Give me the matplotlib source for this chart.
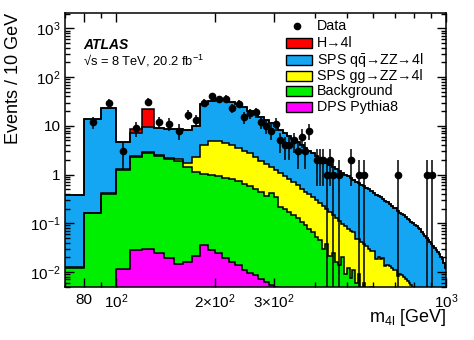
import numpy as np
import matplotlib
matplotlib.use("Agg")
import matplotlib.pyplot as plt
from matplotlib.patches import Rectangle
from matplotlib.ticker import FixedLocator, NullFormatter

plt.rcParams['font.family'] = ['Liberation Sans', 'DejaVu Sans']
plt.rcParams['mathtext.fontset'] = 'custom'
plt.rcParams['mathtext.rm'] = 'Liberation Sans'
plt.rcParams['mathtext.it'] = 'Liberation Sans:italic'
plt.rcParams['mathtext.bf'] = 'Liberation Sans:bold'

# 10 GeV bins, 70 -> 1000 GeV
edges = np.arange(70, 1001, 10)

# per-bin yields (rows of 10 bins, first bin edge in comment)
dps = [0, 0, 0, 0.0115, 0.028, 0.029, 0.024, 0.019, 0.0145, 0.016,          # 70
       0.021, 0.035, 0.028, 0.024, 0.019, 0.016, 0.014, 0.011, 0.0095, 0.0085,  # 170
       0.0072, 0.0063, 0.0055, 0.0048, 0.004, 0.0035] + [0.0] * 67            # 270

bkg = [0.012, 0.16, 0.40, 1.23, 2.23, 2.77, 2.38, 2.08, 1.84, 1.38,          # 70
       1.08, 0.985, 0.95, 0.906, 0.84, 0.774, 0.706, 0.639, 0.56, 0.49,     # 170
       0.423, 0.364, 0.405, 0.335, 0.216, 0.196, 0.17, 0.15, 0.125, 0.105,  # 270
       0.09, 0.076, 0.065, 0.052, 0.046, 0.03, 0.038, 0.021, 0.025, 0.016,  # 370
       0.014, 0.02, 0.009, 0.012, 0.0075, 0.011, 0.006, 0.009, 0.0045, 0.006,  # 470
       0.004, 0.0035, 0.005, 0.003, 0.0028, 0.0026, 0.0024, 0.0022, 0.002, 0.0019,  # 570
       0.0017, 0.0016, 0.0015, 0.0014, 0.0013, 0.0012, 0.0012, 0.0011, 0.001, 0.001,  # 670
       0.0009, 0.0009, 0.0008, 0.0008, 0.0008, 0.0007, 0.0007, 0.0007, 0.0006, 0.0006,  # 770
       0.0006, 0.0005, 0.0005, 0.0005, 0.0005, 0.0004, 0.0004, 0.0004, 0.0004, 0.0003,  # 870
       0.0003, 0.0003, 0.0003]                                               # 970

sps_gg = [0.0005, 0.005, 0.01, 0.06, 0.14, 0.15, 0.15, 0.1, 0.2, 0.35,      # 70
          1.2, 2.98, 3.92, 3.87, 3.54, 3.21, 2.78, 2.45, 2.13, 1.8,         # 170
          1.47, 1.28, 1.04, 0.91, 0.83, 0.72, 0.63, 0.55, 0.475, 0.395,     # 270
          0.35, 0.314, 0.275, 0.248, 0.214, 0.195, 0.157, 0.149, 0.12, 0.109,  # 370
          0.096, 0.077, 0.079, 0.065, 0.0605, 0.056, 0.042, 0.038, 0.0375, 0.032,  # 470
          0.030, 0.0265, 0.022, 0.024, 0.016, 0.0174, 0.0156, 0.0168, 0.011, 0.012,  # 570
          0.0113, 0.0104, 0.0095, 0.0098, 0.0068, 0.0078, 0.0073, 0.0067, 0.0062, 0.0056,  # 670
          0.0051, 0.0046, 0.0042, 0.0038, 0.0035, 0.0031, 0.0028, 0.0025, 0.0022, 0.002,  # 770
          0.0018, 0.0016, 0.0014, 0.0013, 0.0012, 0.0011, 0.001, 0.0009, 0.0008, 0.0007,  # 870
          0.0006, 0.0006, 0.0005]                                              # 970

sps_qq = [0.37, 13.44, 22.59, 3.3, 4.6, 6.35, 6.45, 6.6, 6.45, 6.55,        # 70
          7.7, 24.0, 28.1, 31.2, 29.6, 27.0, 24.5, 20.9, 17.8, 15.7,        # 170
          13.6, 11.35, 10.05, 8.55, 7.15, 6.08, 5.4, 4.7, 4.0, 3.5,         # 270
          3.06, 2.71, 2.36, 2.1, 1.84, 1.675, 1.505, 1.38, 1.305, 1.175,    # 370
          1.09, 0.983, 0.912, 0.843, 0.782, 0.72, 0.667, 0.613, 0.578, 0.532,  # 470
          0.486, 0.47, 0.423, 0.396, 0.358, 0.34, 0.322, 0.293, 0.2745, 0.256,  # 570
          0.237, 0.218, 0.199, 0.19, 0.17, 0.156, 0.146, 0.137, 0.128, 0.118,  # 670
          0.109, 0.1025, 0.095, 0.087, 0.082, 0.076, 0.071, 0.063, 0.058, 0.052,  # 770
          0.048, 0.044, 0.040, 0.036, 0.0325, 0.0296, 0.0267, 0.0248, 0.0219, 0.019,  # 870
          0.0171, 0.0142, 0.0113]                                            # 970

h4l = [0, 0, 0, 0, 1.6, 12.7] + [0.0] * 87

data = [0, 12, 30, 3, 9, 31, 12, 11, 8, 17,      # 70
        13, 30, 41, 35, 36, 23, 28, 15, 18, 19,  # 170
        12, 10, 8, 11, 5, 4, 4, 5, 3, 6,         # 270
        3, 8, 0, 2, 2, 2, 1, 2, 1, 0,            # 370
        1, 0, 0, 0, 2, 0, 0, 1, 0, 1,            # 470
        0, 0, 0, 0, 0, 0, 0, 0, 0, 0,            # 570
        0, 0, 0, 0, 1, 0, 0, 0, 0, 0,            # 670
        0, 0, 0, 0, 0, 0, 0, 0, 0, 0,            # 770
        1, 0, 0, 1, 0, 0, 0, 0, 0, 0,            # 870
        0, 0, 0]                                 # 970

# stack, bottom to top
names = ["DPS Pythia8", "Background", r"SPS gg→ZZ→4l", r"SPS q$\bar{\mathrm{q}}$→ZZ→4l", "H→4l"]
comps = [dps, bkg, sps_gg, sps_qq, h4l]
colors = ["#ff00ff", "#00ee00", "#ffff00", "#14a6f2", "#ff0000"]

levels = np.cumsum(np.array(comps), axis=0)

fig = plt.figure(figsize=(4.74, 3.40), dpi=100)
ax = fig.add_axes([65/474, 1 - 287/340, 381/474, 274/340])

base = 1e-6
for lvl, col in reversed(list(zip(levels, colors))):
    ax.stairs(lvl, edges, baseline=base, fill=True, color=col, lw=0)
for lvl in levels:
    ax.stairs(lvl, edges, baseline=None, color="black", lw=1.1)

# data with sqrt(N) errors
d = np.array(data, dtype=float)
centers = 0.5 * (edges[:-1] + edges[1:])
m = d > 0
ax.errorbar(centers[m], d[m], yerr=np.sqrt(d[m]), fmt="o", color="black",
            ms=4.5, elinewidth=1.1, capsize=0, zorder=5)

ax.set_xscale("log")
ax.set_yscale("log", nonpositive="clip")
ax.set_xlim(70, 1000)
ax.set_ylim(0.0049, 2070)

ax.xaxis.set_major_locator(FixedLocator([80, 100, 200, 300, 1000]))
ax.set_xticklabels(["80", r"10$^{2}$", r"2×10$^{2}$", r"3×10$^{2}$", r"10$^{3}$"])
ax.xaxis.set_minor_locator(FixedLocator([70, 90, 400, 500, 600, 700, 800, 900]))
ax.xaxis.set_minor_formatter(NullFormatter())

ax.yaxis.set_major_locator(FixedLocator([1e-2, 1e-1, 1, 10, 100, 1000]))
ax.set_yticklabels([r"10$^{-2}$", r"10$^{-1}$", "1", "10", r"10$^{2}$", r"10$^{3}$"])
ax.yaxis.set_minor_locator(FixedLocator([k * 10.0**e for e in range(-3, 4) for k in range(2, 10)]))
ax.yaxis.set_minor_formatter(NullFormatter())

ax.tick_params(which="both", direction="in", top=True, right=True, labelsize=11, width=1.0)
ax.tick_params(which="major", length=6.5)
ax.tick_params(which="minor", length=3.5)
ax.tick_params(axis="x", pad=4)
ax.tick_params(axis="y", pad=3)
for s in ax.spines.values():
    s.set_linewidth(1.1)

fig.text(14/474, 1 - 13/340, "Events / 10 GeV", rotation=90, ha="center", va="top", fontsize=13)
fig.text(446/474, 1 - 318/340, r"m$_{\mathrm{4l}}$ [GeV]", ha="right", va="center", fontsize=13)

ax.text(0.047, 0.885, "ATLAS", transform=ax.transAxes, fontsize=10,
        fontweight="bold", fontstyle="italic", va="center")
ax.text(0.047, 0.825, r"√s = 8 TeV, 20.2 fb$^{-1}$", transform=ax.transAxes,
        fontsize=9.3, va="center")

# legend drawn by hand, ROOT style
ax.plot([0.609], [0.954], "o", color="black", ms=4.5, transform=ax.transAxes, clip_on=False)
ax.text(0.661, 0.954, "Data", transform=ax.transAxes, fontsize=10.3, va="center")
rows = [0.8905, 0.830, 0.770, 0.715, 0.657]
for yy, name, col in zip(rows, names[::-1], colors[::-1]):
    ax.add_patch(Rectangle((0.580, yy - 0.018), 0.068, 0.036, transform=ax.transAxes,
                           facecolor=col, edgecolor="black", lw=1.0, zorder=6))
    ax.text(0.661, yy, name, transform=ax.transAxes, fontsize=10.3, va="center")

fig.savefig("out.png", dpi=100)
